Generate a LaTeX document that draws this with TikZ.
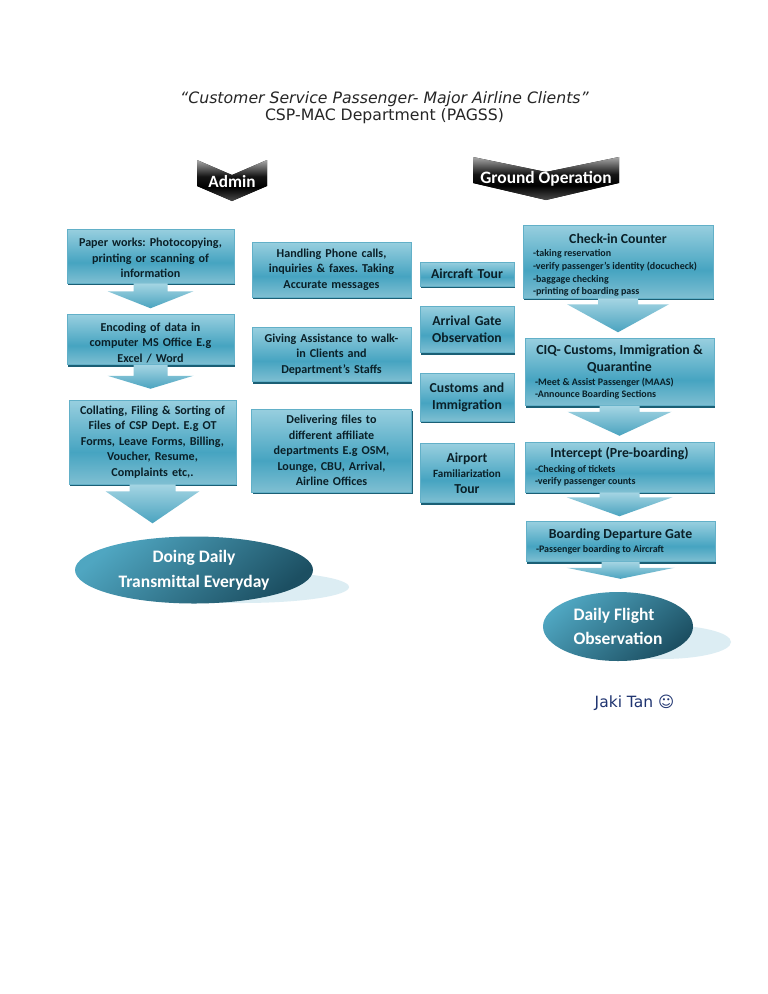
\documentclass[tikz,border=0pt]{standalone}
\usepackage{fontspec}
\setmainfont{Carlito}
\newfontfamily\titlefont{DejaVu Sans}
\usepackage{tikz}
\usetikzlibrary{positioning,calc,shapes.geometric,shadows}
\definecolor{tealtop}{HTML}{98CFDF}
\definecolor{tealmid}{HTML}{46A4C1}
\definecolor{teallow}{HTML}{7FBFD2}
\definecolor{tealline}{HTML}{62B0C8}
\definecolor{tealdark}{HTML}{1B5F75}
\definecolor{arrowtop}{HTML}{A5D5E3}
\definecolor{arrowlow}{HTML}{4AA3BF}
\definecolor{ovalA}{HTML}{4FA6C1}
\definecolor{ovalB}{HTML}{1C4F62}
\definecolor{ovalpale}{HTML}{DCEDF3}
\definecolor{chevtop}{HTML}{A8A8A8}
\definecolor{chevlow}{HTML}{4A4A4A}
\definecolor{inktext}{HTML}{0A2028}
\definecolor{signC}{HTML}{1F3470}
\pgfdeclareverticalshading{tealshade}{100bp}{color(0bp)=(teallow); color(25bp)=(teallow); color(44bp)=(tealmid); color(75bp)=(tealtop); color(100bp)=(tealtop)}
\pgfdeclareverticalshading{chevshade}{100bp}{color(0bp)=(chevlow); color(25bp)=(chevlow); color(42bp)=(black); color(55bp)=(black!92); color(75bp)=(chevtop); color(100bp)=(chevtop)}
\newcommand{\headtxt}{\fontsize{13.8}{17}\selectfont}
\newcommand{\subtxt}{\fontsize{10}{12.6}\selectfont}
\tikzset{
  tealbox/.style 2 args={rectangle, draw=tealline, line width=0.5pt, shading=tealshade,
               inner xsep=0pt, inner ysep=0pt, text width=#1, minimum height=#2, text=inktext,
               font=\bfseries\frenchspacing\fontsize{12.1}{15.5}\selectfont, align=center,
               general shadow={fill=tealdark, shadow xshift=1.2pt, shadow yshift=-2.2pt}},
  listbox/.style 2 args={tealbox={#1}{#2}, align=none},
  tourbox/.style 2 args={tealbox={#1}{#2}, font=\bfseries\frenchspacing\fontsize{13.7}{17.3}\selectfont},
  oval/.style 2 args={ellipse, inner sep=0pt, minimum width=#1, minimum height=#2,
               top color=ovalA, bottom color=ovalB, shading angle=40, text=white,
               font=\bfseries\fontsize{17.5}{24.5}\selectfont, align=center},
  chevron/.style={shading=chevshade},
  chevlabel/.style={text=white, font=\bfseries\fontsize{#1}{#1}\selectfont, inner sep=0pt},
  blockarr/.style n args={4}{top color=arrowtop, bottom color=arrowlow,
    to path={let \p1=(\tikztostart), \p2=(\tikztotarget) in
      (\x1-#1,\y1) -- (\x1+#1,\y1) -- (\x1+#1,\y1-#3) -- (\x1+#2,\y1-#3)
      -- (\x1,\y2+#4) -- (\x1-#2,\y1-#3) -- (\x1-#1,\y1-#3) -- cycle}},
}
\begin{document}
\begin{tikzpicture}[x=1pt,y=1pt]
    \useasboundingbox (0,0) rectangle (768,-994);
    \fill[white] (0,0) rectangle (768,-994);

    \node[font=\titlefont\itshape\fontsize{15.7}{18}\selectfont, text=black!85, inner sep=0pt] (title) at (384.5,-99.5)
      {“Customer Service Passenger- Major Airline Clients”};
    \node[font=\titlefont\fontsize{15.7}{18}\selectfont, text=black!85, inner sep=0pt, below=1pt of title] (subtitle)
      {CSP-MAC Department (PAGSS)};

    % the two dark headers
    \fill[chevron] (197,-160) -- (232,-175) -- (267,-160) -- (267,-186) -- (232,-201) -- (197,-186) -- cycle;
    \fill[chevron] (473,-157) -- (546,-172) -- (619,-157) -- (619,-183) -- (546,-200) -- (473,-183) -- cycle;
    \node[chevlabel=17.2] (admin) at (232,-181.5) {Admin};
    \node[chevlabel=17.4] (ground) at (546,-178.5) {Ground Operation};

    % left column
    \node[tealbox={167pt}{54pt}] (paper) at (150.5,-256)
      {\rule{0pt}{13pt}Paper works: Photocopying,\\printing or scanning of\\information};
    \node[tealbox={167pt}{50pt}, below=31pt of paper] (encoding)
      {\rule{0pt}{15pt}Encoding of data in\\computer MS Office E.g\\Excel / Word};
    \node[tealbox={167pt}{84pt}, below=35pt of encoding, xshift=2pt] (collating)
      {Collating, Filing \& Sorting of\\Files of CSP Dept. E.g OT\\Forms, Leave Forms, Billing,\\Voucher, Resume,\\Complaints etc,.};

    % middle column
    \node[tealbox={159pt}{55pt}] (phone) at (331.5,-269.5)
      {Handling Phone calls,\\inquiries \& faxes. Taking\\Accurate messages};
    \node[tealbox={159pt}{54pt}, below=30pt of phone] (assist)
      {Giving Assistance to walk-\\in Clients and\\Department’s Staffs};
    \node[tealbox={160pt}{83pt}, below=27pt of assist] (files)
      {Delivering files to\\different affiliate\\departments E.g OSM,\\Lounge, CBU, Arrival,\\Airline Offices};

    % tours column
    \node[tourbox={94pt}{24pt}] (tour) at (467,-274) {Aircraft Tour};
    \node[tourbox={94pt}{46pt}, below=20pt of tour] (arrival) {Arrival Gate\\Observation};
    \node[tourbox={94pt}{48pt}, below=20pt of arrival] (customs) {Customs and\\Immigration};
    \node[tourbox={94pt}{59pt}, below=22pt of customs] (airport)
      {Airport\\[-2pt]{\fontsize{11.1}{15}\selectfont Familiarization}\\[-1.5pt]Tour};

    % right column
    \node[listbox={190pt}{73pt}] (checkin) at (618,-261.5)
      {{\centering\headtxt\rule{0pt}{17pt}Check-in Counter\par}\vspace{0.5pt}{\leftskip=10pt\subtxt -taking reservation\\-verify passenger's identity (docucheck)\\-baggage checking\\-printing of boarding pass\par}};
    \node[listbox={189pt}{67pt}, below=40pt of checkin, xshift=1.5pt] (ciq)
      {{\centering\headtxt CIQ- Customs, Immigration \&\\Quarantine\par}\vspace{1.5pt}{\leftskip=10pt\subtxt -Meet \& Assist Passenger (MAAS)\\-Announce Boarding Sections\par}};
    \node[listbox={189pt}{50pt}, below=36pt of ciq] (intercept)
      {{\centering\headtxt Intercept (Pre-boarding)\par}\vspace{1.5pt}{\leftskip=10pt\subtxt -Checking of tickets\\-verify passenger counts\par}};
    \node[listbox={189pt}{40pt}, below=29pt of intercept, xshift=1pt] (boarding)
      {{\centering\headtxt Boarding Departure Gate\par}\vspace{1pt}{\leftskip=10pt\subtxt -Passenger boarding to Aircraft\par}};

    % ovals, with their pale shadows
    \fill[ovalpale] (242,-587) ellipse [x radius=107, y radius=16];
    \fill[ovalpale] (662,-642) ellipse [x radius=69, y radius=17];
    \node[oval={238pt}{67pt}] (transmittal) at (194,-570) {Doing Daily\\Transmittal Everyday};
    \node[oval={150pt}{69pt}, align=left] (flight) at (618,-626.5) {Daily Flight\\Observation};

    % block arrows
    \path[blockarr={17pt}{43pt}{8pt}{6pt}] (paper.south) to (encoding.north);
    \path[blockarr={17pt}{43pt}{11pt}{11pt}] (encoding.south) to (collating.north);
    \path[blockarr={23pt}{47pt}{7pt}{13pt}] (collating.south) to (transmittal.north);
    \path[blockarr={20pt}{51pt}{6pt}{6pt}] (checkin.south) to (ciq.north);
    \path[blockarr={20pt}{52pt}{6pt}{6pt}] (ciq.south) to (intercept.north);
    \path[blockarr={20pt}{53pt}{5pt}{5pt}] (intercept.south) to (boarding.north);
    \path[blockarr={19pt}{54pt}{6pt}{13pt}] (boarding.south) to (flight.north);

    \node[font=\titlefont\fontsize{15.5}{18}\selectfont, text=signC, inner sep=0pt] (sign) at (634.5,-703) {Jaki Tan ☺};
  \end{tikzpicture}
\end{document}
